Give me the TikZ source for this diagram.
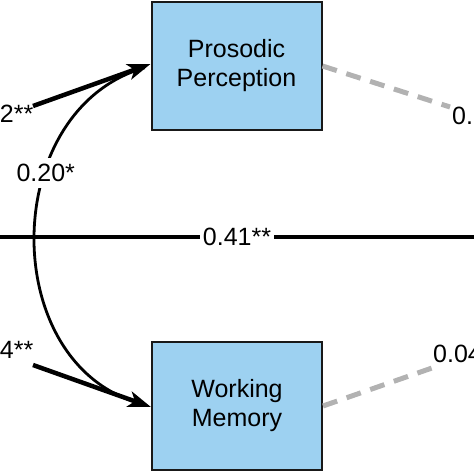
\documentclass[tikz,border=0pt]{standalone}
\usepackage{fontspec}
\setmainfont{Liberation Sans}
\usetikzlibrary{arrows.meta}
\definecolor{boxblue}{RGB}{157,209,241}
\definecolor{boxedge}{RGB}{25,25,25}
\definecolor{dashgray}{RGB}{178,178,178}
\begin{document}
\begin{tikzpicture}[x=1pt,y=-1pt,
  varbox/.style={draw=boxedge,line width=2pt,fill=boxblue,minimum width=170pt,minimum height=128pt,
    align=center,font=\fontsize{25}{29}\selectfont,inner sep=0pt},
  lab/.style={font=\fontsize{25}{28}\selectfont,inner sep=1pt},
  patharrow/.style={line width=4.5pt,-{Stealth[length=23pt,width=16pt,inset=6pt]}},
  corr/.style={line width=2.8pt},
  nonsig/.style={line width=5pt,dashgray,dash pattern=on 15pt off 10pt}]
\useasboundingbox (0,0) rectangle (474,474);
\node[varbox] (pp) at (236.5,66) {Prosodic\\Perception};
\node[varbox] (wm) at (237,406) {Working\\Memory};
% free ends
\coordinate (ps) at (33,106);
\coordinate (ws) at (33,365);
\coordinate (pe) at (450,107);
\coordinate (we) at (432,368);
\coordinate (hl) at (0,237);
\coordinate (hr) at (474,237);
% labels of off-picture paths
\node[lab,anchor=east,inner sep=0pt] (l2) at (33.5,114) {2**};
\node[lab,anchor=east,inner sep=0pt] (l4) at (33.5,350) {4**};
\node[lab,anchor=west] (l0) at (451,116) {0.};
\node[lab,anchor=west] (l04) at (432,354) {0.04};
% horizontal path
\draw[line width=4.5pt] (hl) -- node[lab,fill=white,inner xsep=3pt] (l41) {0.41**} (hr);
% correlation curve
\draw[corr,shorten <=6pt,shorten >=6pt] (pp.west) .. controls (-3,110) and (-3,370) .. node[pos=0.35,lab,fill=white,inner ysep=6pt] (l20) {0.20*} (wm.west);
% paths
\draw[patharrow] (ps) -- ([yshift=2pt]pp.west);
\draw[patharrow] (ws) -- ([yshift=-1pt]wm.west);
\draw[nonsig] (pp.east) -- (pe);
\draw[nonsig] (wm.east) -- (we);
\end{tikzpicture}
\end{document}
